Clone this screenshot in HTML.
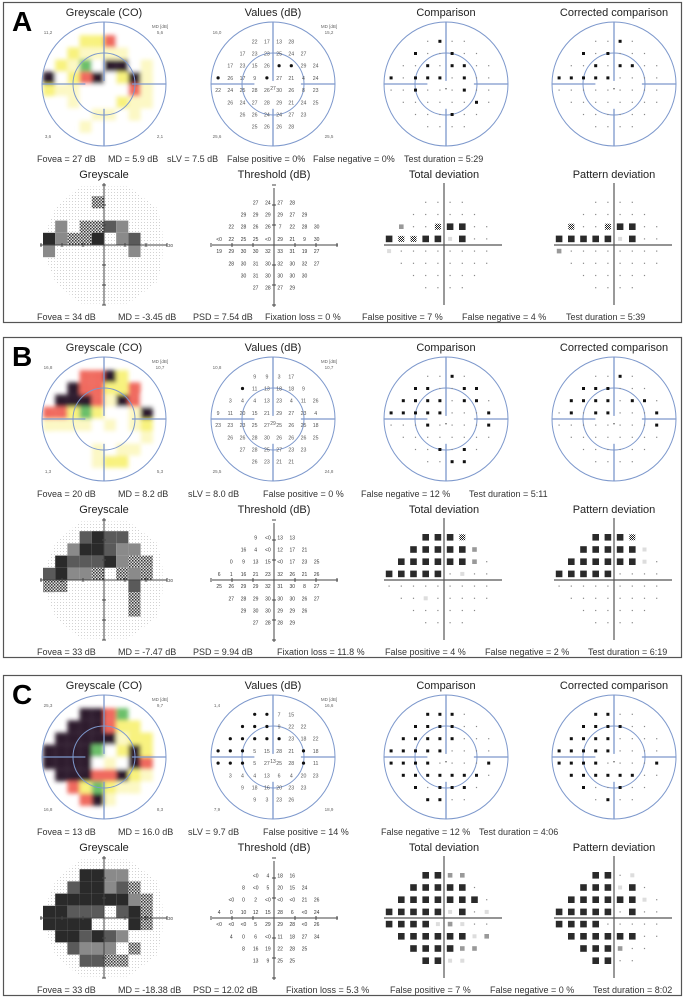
<!DOCTYPE html>
<html><head><meta charset="utf-8">
<style>
html,body{margin:0;padding:0;background:#fff;}
svg{display:block;font-family:"Liberation Sans",sans-serif;}
</style></head>
<body>
<svg id="fig" width="685" height="999" viewBox="0 0 685 999" xmlns="http://www.w3.org/2000/svg">
<defs>
<pattern id="dots" width="3" height="3" patternUnits="userSpaceOnUse"><rect width="3" height="3" fill="#fff"/><rect x="0" y="0" width="1" height="1" fill="#d2d2d2"/></pattern>
<pattern id="hatch" width="3" height="3" patternUnits="userSpaceOnUse"><rect width="3" height="3" fill="#ddd"/><rect x="0" y="0" width="1.5" height="1.5" fill="#333"/><rect x="1.5" y="1.5" width="1.5" height="1.5" fill="#555"/></pattern>
<pattern id="chk" width="2" height="2" patternUnits="userSpaceOnUse"><rect width="2" height="2" fill="#fff"/><rect width="1" height="1" fill="#222"/><rect x="1" y="1" width="1" height="1" fill="#222"/></pattern>
<filter id="soft" x="-10%" y="-10%" width="120%" height="120%"><feGaussianBlur stdDeviation="2.2"/></filter>
</defs>
</svg>
<script>
// ---- data (grid rows: 4,6,8,9,9,8,6,4 points) ----
const panelLetters = ["A","B","C"];
const valuesA = [22,17,13,28, 17,23,23,25,24,27, 17,23,15,26,null,null,29,24, null,26,17,9,null,27,21,4,24, 22,24,25,28,26,30,26,8,23, 26,24,27,28,29,21,24,25, 26,26,24,24,27,23, 25,26,26,28];
const valuesB = [9,9,3,17, null,11,13,18,18,9, 3,4,4,13,23,4,11,26, 9,11,20,15,21,29,27,23,4, 23,23,23,25,27,25,26,25,18, 26,26,28,30,26,26,26,25, 27,28,25,27,23,23, 26,23,21,21];
const valuesC = [null,null,7,15, null,null,null,9,22,22, null,null,null,null,null,23,18,22, null,null,null,5,15,28,21,null,18, null,null,null,5,27,25,28,null,11, 3,4,4,13,6,4,20,23, 9,18,16,20,23,23, 9,3,23,26];
const thresholdA = [27,24,27,28, 29,29,29,29,27,29, 22,28,26,26,7,22,28,30, -1,22,25,25,-1,29,21,9,30, 19,29,30,30,32,33,31,19,27, 28,30,31,30,32,30,32,27, 30,31,30,30,30,30, 27,28,27,29];
const thresholdB = [9,-1,13,13, 16,4,-1,12,17,21, 0,9,13,15,-1,17,23,25, 6,1,16,21,23,32,26,21,26, 25,26,29,29,32,31,30,8,27, 27,28,29,30,30,30,26,27, 29,30,30,29,29,26, 27,28,28,29];
const thresholdC = [-1,4,18,16, 8,-1,5,20,15,24, -1,0,2,-1,-1,-1,21,26, 4,0,10,12,15,28,6,-1,24, -1,-1,-1,5,29,29,28,-1,26, 4,0,6,-1,11,18,27,34, 8,16,19,22,28,25, 13,9,25,25];
const compareA = [0,1,0,0, 1,0,0,1,0,0, 0,0,1,0,1,1,0,0, 1,0,1,1,1,0,1,0,0, 0,0,1,0,0,0,1,0,0, 0,0,0,0,0,0,1,0, 0,0,0,1,0,0, 0,0,0,0];
const correctedA = [0,0,1,0, 1,0,1,0,0,0, 0,0,1,0,1,1,0,0, 1,1,1,1,1,0,0,0,0, 0,0,0,0,0,0,0,0,0, 0,0,0,0,0,0,0,0, 0,0,0,0,0,0, 0,0,0,0];
const compareB = [0,0,1,0, 1,1,0,0,1,1, 1,1,1,1,0,1,1,0, 1,1,1,1,1,0,0,0,1, 0,0,0,1,0,0,0,0,1, 0,0,0,0,0,0,0,0, 0,0,1,0,1,0, 0,0,1,1];
const correctedB = [0,0,1,0, 1,1,1,0,0,0, 1,1,1,1,0,1,1,0, 0,1,0,1,1,0,0,0,1, 0,0,0,0,0,0,0,0,1, 0,0,0,0,0,0,0,0, 0,0,0,0,0,0, 0,0,0,0];
const compareC = [1,1,1,0, 1,1,1,1,0,0, 1,1,1,1,1,0,0,0, 1,1,1,1,1,0,0,0,0, 1,1,1,1,0,0,0,0,1, 1,1,1,1,1,1,1,0, 1,0,1,1,1,0, 1,1,0,0];
const correctedC = [1,1,0,0, 1,1,1,1,0,0, 1,1,1,1,0,0,0,0, 1,1,1,1,1,0,0,0,0, 1,1,1,1,0,0,0,0,1, 1,1,1,1,1,1,0,0, 1,0,0,1,0,0, 0,1,0,0];
const totalDevA = [0,0,0,0, 0,0,0,0,0,0, 3,0,0,2,4,4,0,0, 4,2,2,4,4,1,4,0,0, 1,0,0,0,0,0,0,0,0, 0,0,0,0,0,0,0,0, 0,0,0,0,0,0, 0,0,0,0];
const patternDevA = [0,0,0,0, 0,0,0,0,0,0, 2,0,0,2,4,4,0,0, 4,4,4,4,4,1,4,0,0, 3,0,0,0,0,0,0,0,0, 0,0,0,0,0,0,0,0, 0,0,0,0,0,0, 0,0,0,0];
const totalDevB = [4,4,4,2, 4,4,4,4,4,3, 4,4,4,4,4,4,3,0, 4,4,4,4,4,0,1,0,0, 0,0,0,0,0,0,0,0,0, 0,0,1,0,0,0,0,0, 0,0,0,0,0,0, 0,0,0,0];
const patternDevB = [4,4,4,2, 4,4,4,4,4,1, 4,4,4,4,4,4,1,0, 4,4,4,4,4,0,0,0,0, 0,0,0,0,0,0,0,0,0, 0,0,0,0,0,0,0,0, 0,0,0,0,0,0, 0,0,0,0];
const totalDevC = [4,4,3,3, 4,4,4,4,4,0, 4,4,4,4,4,4,4,0, 4,4,4,4,4,1,4,0,1, 4,4,4,4,1,3,1,0,0, 4,4,4,4,4,4,1,3, 4,4,4,4,3,3, 4,4,1,1];
const patternDevC = [4,4,0,1, 4,4,4,1,4,0, 4,4,4,4,4,4,1,0, 4,4,4,4,4,0,4,0,0, 4,4,4,4,0,0,0,0,0, 4,4,4,4,4,4,0,0, 4,4,4,3,0,0, 4,4,0,0];
const foveaValues = [27,29,13];
const topStats = [
 [["Fovea = 27 dB",37],["MD = 5.9 dB",108],["sLV = 7.5 dB",167],["False positive = 0%",227],["False negative = 0%",313],["Test duration = 5:29",404]],
 [["Fovea = 20 dB",37],["MD = 8.2 dB",118],["sLV = 8.0 dB",188],["False positive = 0 %",263],["False negative = 12 %",361],["Test duration = 5:11",469]],
 [["Fovea = 13 dB",37],["MD = 16.0 dB",118],["sLV = 9.7 dB",188],["False positive = 14 %",263],["False negative = 12 %",381],["Test duration = 4:06",479]]];
const bottomStats = [
 [["Fovea = 34 dB",37],["MD = -3.45 dB",118],["PSD = 7.54 dB",193],["Fixation loss = 0 %",265],["False positive = 7 %",362],["False negative = 4 %",462],["Test duration = 5:39",566]],
 [["Fovea = 33 dB",37],["MD = -7.47 dB",118],["PSD = 9.94 dB",193],["Fixation loss = 11.8 %",277],["False positive = 4 %",385],["False negative = 2 %",485],["Test duration = 6:19",588]],
 [["Fovea = 33 dB",37],["MD = -18.38 dB",118],["PSD = 12.02 dB",193],["Fixation loss = 5.3 %",286],["False positive = 7 %",390],["False negative = 0 %",490],["Test duration = 8:02",593]]];
const cornerGrey = [["11,2","5,6","3,6","2,1"],["16,8","10,7","1,3","5,3"],["25,3","9,7","16,8","8,3"]];
const cornerVal = [["16,0","15,2","25,6","25,5"],["10,8","10,7","25,5","24,8"],["1,4","16,6","7,9","18,9"]];

const panelValues=[valuesA,valuesB,valuesC], panelThr=[thresholdA,thresholdB,thresholdC];
const panelCmp=[compareA,compareB,compareC], panelCor=[correctedA,correctedB,correctedC];
const panelTD=[totalDevA,totalDevB,totalDevC], panelPD=[patternDevA,patternDevB,patternDevC];

// ---- layout ----
const NS="http://www.w3.org/2000/svg";
const svg=document.getElementById('fig');
const offsets=[0,335,673];
const rowStart=[-1.5,-2.5,-3.5,-4.5,-4.5,-3.5,-2.5,-1.5], rowLen=[4,6,8,9,9,8,6,4];
const S=12.2;
const gridPts=[];
rowLen.forEach((n,r)=>{for(let i=0;i<n;i++)gridPts.push([rowStart[r]+i, r-3.5]);});
function xPos(cx,g){return cx+g*S;}
function yPos(cy,g){return cy+g*S;}
function mk(tag,attrs,parent){const e=document.createElementNS(NS,tag);for(const k in attrs)e.setAttribute(k,attrs[k]);(parent||svg).appendChild(e);return e;}
function txt(s,x,y,size,parent,anchor,fill,weight){const t=mk('text',{x:x,y:y,'font-size':size,fill:fill||'#222','text-anchor':anchor||'start'},parent);if(weight)t.setAttribute('font-weight',weight);t.textContent=s;return t;}
const BLUE='#7d98cc';

function circleFrame(g,cx,cy,R,pi,corners){
  mk('circle',{cx:cx,cy:cy,r:R,fill:'none',stroke:BLUE,'stroke-width':1},g);
  mk('circle',{cx:cx,cy:cy,r:R*0.5,fill:'none',stroke:BLUE,'stroke-width':1},g);
  mk('line',{x1:cx,y1:cy-R,x2:cx,y2:cy-R*0.05,stroke:BLUE,'stroke-width':1.3},g);
  mk('line',{x1:cx,y1:cy+R*0.4,x2:cx,y2:cy+R,stroke:BLUE,'stroke-width':1.3},g);
  mk('line',{x1:cx-R,y1:cy,x2:cx-R*0.3,y2:cy,stroke:BLUE,'stroke-width':1.3},g);
  mk('line',{x1:cx+R*0.45,y1:cy,x2:cx+R,y2:cy,stroke:BLUE,'stroke-width':1.3},g);
  if(corners){
    txt(corners[0],cx-R+6,cy-R+12,4.5,g,'middle','#666');
    txt('MD [dB]',cx+R-6,cy-R+6,4.5,g,'middle','#666');
    txt(corners[1],cx+R-6,cy-R+12,4.5,g,'middle','#666');
    txt(corners[2],cx-R+6,cy+R-8,4.5,g,'middle','#666');
    txt(corners[3],cx+R-6,cy+R-8,4.5,g,'middle','#666');
  }
}
function coColor(v){if(v===null||v<=5)return '#2e1e2e';if(v<=13)return '#f06a5e';if(v<=16)return '#6cc06a';if(v<=22)return '#f8f27e';if(v<=25)return '#fcf8c4';return '#ffffff';}
function greyFill(v){if(v<=5)return '#2a2a2a';if(v<=15)return '#5a5a5a';if(v<=22)return '#8a8a8a';if(v<=26)return 'url(#hatch)';return 'url(#dots)';}

for(let p=0;p<3;p++){
  const oy=offsets[p];
  const G=mk('g',{transform:'translate(0,'+oy+')'});
  
  
  mk('rect',{x:3.5,y:2.5,width:678,height:320,fill:'none',stroke:'#555','stroke-width':1.2},G);
  const L=txt(panelLetters[p],12,31,28,G,'start','#000','bold');
  
  const titles=[["Greyscale (CO)",104],["Values (dB)",273],["Comparison",446],["Corrected comparison",614]];
  titles.forEach(t=>{const e=txt(t[0],t[1],16,11,G,'middle','#222');});
  const btitles=[["Greyscale",104],["Threshold (dB)",274],["Total deviation",444],["Pattern deviation",614]];
  btitles.forEach(t=>{const e=txt(t[0],t[1],178,11,G,'middle','#222');});
  const cy=84,R=62;
  // greyscale CO
  const g1=mk('g',{},G);
  
  const cid='clip'+p;
  const cp=mk('clipPath',{id:cid},g1);mk('circle',{cx:104,cy:cy,r:R},cp);
  const clipG=mk('g',{'clip-path':'url(#'+cid+')'},g1);
  const cells=mk('g',{filter:'url(#soft)'},clipG);
  panelValues[p].forEach((v,i)=>{const gp=gridPts[i];
    const c=mk('rect',{x:xPos(104,gp[0])-S/2,y:yPos(cy,gp[1])-S/2,width:S,height:S,fill:coColor(v)},cells);
    });
  circleFrame(g1,104,cy,R,p,cornerGrey[p]);
  // values
  const g2=mk('g',{},G);
  
  circleFrame(g2,273,cy,R,p,cornerVal[p]);
  panelValues[p].forEach((v,i)=>{const gp=gridPts[i];const x=xPos(273,gp[0]),y=yPos(cy,gp[1]);
    let e;if(v===null){e=mk('circle',{cx:x,cy:y,r:1.6,fill:'#111'},g2);}else{e=txt(String(v),x,y+2,5.2,g2,'middle','#555');}
    });
  txt(String(foveaValues[p]),273,cy+6,5,g2,'middle','#555');
  // comparison plots
  [[panelCmp[p],446,'comparison-plot'],[panelCor[p],614,'corrected-comparison-plot']].forEach(d=>{
    const g=mk('g',{},G);
    circleFrame(g,d[1],cy,R,p,null);
    d[0].forEach((v,i)=>{const gp=gridPts[i];const x=xPos(d[1],gp[0]),y=yPos(cy,gp[1]);
      const e=v?mk('rect',{x:x-1.5,y:y-1.5,width:3,height:3,fill:'#111'},g):mk('rect',{x:x-0.6,y:y-0.6,width:1.2,height:1.2,fill:'#888'},g);
      });
    mk('rect',{x:d[1]-0.7,y:cy+4,width:1.4,height:1.4,fill:'#666'},g);
  });
  // stats
  topStats[p].forEach(s=>{const e=txt(s[0],s[1],162,9,G,'start','#333');});
  bottomStats[p].forEach(s=>{const e=txt(s[0],s[1],320,9,G,'start','#333');});
  const by=245;
  // greyscale bottom
  const g3=mk('g',{},G);
  mk('polygon',{points:[[-2,-4.8],[2,-4.8],[4.4,-3],[4.8,-1],[4.8,1],[4.4,3],[2,4.8],[-2,4.8],[-4,3],[-4.8,1],[-4.8,-1],[-4,-3]].map(q=>(xPos(104,q[0]))+','+(yPos(by,q[1]))).join(' '),fill:'url(#dots)'},g3);
  panelThr[p].forEach((v,i)=>{const gp=gridPts[i];
    const e=mk('rect',{x:xPos(104,gp[0])-S/2,y:yPos(by,gp[1])-S/2,width:S,height:S,fill:greyFill(v)},g3);
    });
  mk('line',{x1:104,y1:183,x2:104,y2:305,stroke:'#444','stroke-width':1},g3);
  mk('line',{x1:40,y1:by,x2:167,y2:by,stroke:'#444','stroke-width':1},g3);
  for(let k=-3;k<=3;k++){if(!k)continue;mk('line',{x1:104+k*21,y1:by-2,x2:104+k*21,y2:by+2,stroke:'#444'},g3);mk('line',{x1:102,y1:by+k*20,x2:106,y2:by+k*20,stroke:'#444'},g3);}
  txt('30',168,by+2,4.5,g3,'start','#444');
  // threshold
  const g4=mk('g',{},G);
  mk('line',{x1:274,y1:188,x2:274,y2:307,stroke:'#444','stroke-width':1},g4);
  mk('line',{x1:212,y1:by,x2:338,y2:by,stroke:'#444','stroke-width':1},g4);
  for(let k=-3;k<=3;k++){if(!k)continue;mk('line',{x1:274+k*21,y1:by-2,x2:274+k*21,y2:by+2,stroke:'#444'},g4);mk('line',{x1:272,y1:by+k*20,x2:276,y2:by+k*20,stroke:'#444'},g4);}
  panelThr[p].forEach((v,i)=>{const gp=gridPts[i];
    const e=txt(v<0?'<0':String(v),xPos(274,gp[0]),yPos(by,gp[1])+2,5,g4,'middle','#333');
    });
  // deviation plots
  [[panelTD[p],444,'total-deviation-plot'],[panelPD[p],614,'pattern-deviation-plot']].forEach(d=>{
    const g=mk('g',{},G);
    mk('line',{x1:d[1],y1:183,x2:d[1],y2:305,stroke:'#555','stroke-width':1.2},g);
    mk('line',{x1:d[1]-60,y1:by,x2:d[1]+58,y2:by,stroke:'#555','stroke-width':1.2},g);
    d[0].forEach((v,i)=>{const gp=gridPts[i];const x=xPos(d[1],gp[0]),y=yPos(by,gp[1]);let e;
      if(v===4)e=mk('rect',{x:x-3.3,y:y-3.3,width:6.6,height:6.6,fill:'#2a2a2a'},g);
      else if(v===2)e=mk('rect',{x:x-3,y:y-3,width:6,height:6,fill:'url(#chk)'},g);
      else if(v===3)e=mk('rect',{x:x-2.3,y:y-2.3,width:4.6,height:4.6,fill:'#999'},g);
      else if(v===1)e=mk('rect',{x:x-2,y:y-2,width:4,height:4,fill:'#ddd'},g);
      else e=mk('rect',{x:x-0.6,y:y-0.6,width:1.2,height:1.2,fill:'#888'},g);
      });
  });
}
</script>
</body></html>
